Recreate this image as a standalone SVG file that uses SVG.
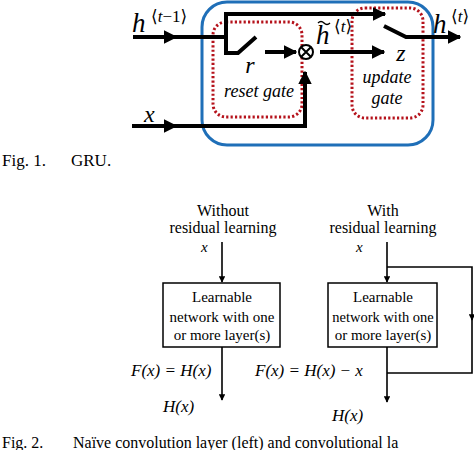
<svg xmlns="http://www.w3.org/2000/svg" width="474" height="450" viewBox="0 0 474 450">
<style>
.ln{fill:none;stroke:#000;stroke-width:4}
.ln2{fill:none;stroke:#000;stroke-width:1.6}
.m{font-family:"Liberation Serif","DejaVu Serif",serif;font-style:italic}
.sup{font-family:"Liberation Serif","DejaVu Serif",serif;font-size:17px}
.t{font-family:"Liberation Serif","Times New Roman",serif}
.gate{fill:none;stroke:#b5121b;stroke-width:3;stroke-dasharray:2.2 2.2}
.box{fill:#fff;stroke:#000;stroke-width:1.5}
</style>
<defs>
<marker id="ah" viewBox="0 0 10 10" refX="9" refY="5" markerWidth="3.4" markerHeight="3.4" orient="auto" markerUnits="strokeWidth"><path d="M0,0L10,5L0,10z"/></marker>
<marker id="ah2" viewBox="0 0 10 10" refX="9" refY="5" markerWidth="4" markerHeight="4" orient="auto" markerUnits="strokeWidth"><path d="M0,0L10,5L0,10z"/></marker>
</defs>

<g id="gru-frame"><rect x="202" y="2" width="231" height="143" rx="25" fill="none" stroke="#1f6fb8" stroke-width="3"/></g>
<g id="reset-gate"><rect x="213" y="22" width="89" height="95" rx="13" class="gate"/>
<text x="259" y="97" class="m" font-size="18" text-anchor="middle">reset gate</text>
<text x="250" y="73" class="m" font-size="24" text-anchor="middle">r</text></g>
<g id="update-gate"><rect x="352" y="8" width="71" height="110" rx="13" class="gate"/>
<text x="387" y="83" class="m" font-size="18" text-anchor="middle">update</text>
<text x="387" y="104" class="m" font-size="18" text-anchor="middle">gate</text>
<text x="401" y="61" class="m" font-size="24" text-anchor="middle">z</text></g>
<g id="mult"><circle cx="306" cy="52" r="7" fill="#fff" stroke="#000" stroke-width="2"/>
<path d="M301,47L311,57M311,47L301,57" stroke="#000" stroke-width="2"/></g>

<g id="gru-connectors">
<path class="ln" d="M133,37H226"/><path class="ln" d="M133,37H176" marker-end="url(#ah)"/>
<path class="ln" d="M226,37V14H385" marker-end="url(#ah)"/>
<path class="ln" d="M226,37V53H238L256,37"/>
<path class="ln" d="M265,52H296" marker-end="url(#ah)"/>
<path class="ln" d="M320,52H384" marker-end="url(#ah)"/>
<path class="ln" d="M384,26L406,37H460" marker-end="url(#ah)"/>
<path class="ln" d="M132,126H305V72" marker-end="url(#ah)"/>
<path class="ln" d="M132,126H176" marker-end="url(#ah)"/>
</g>
<g id="gru-labels">
<text x="132" y="32" class="m" font-size="27">h</text>
<text x="151" y="22" class="sup">⟨<tspan font-style="italic">t</tspan>−1⟩</text>
<text x="316" y="44" class="m" font-size="27">h</text>
<path d="M318,23q3,-3 6,0t6,0" fill="none" stroke="#000" stroke-width="1.4"/>
<text x="334" y="32" class="sup">⟨<tspan font-style="italic">t</tspan>⟩</text>
<text x="433" y="33" class="m" font-size="27">h</text>
<text x="451" y="22" class="sup">⟨<tspan font-style="italic">t</tspan>⟩</text>
<text x="144" y="122" class="m" font-size="24">x</text>
</g>

<text x="2" y="166" class="t" font-size="17">Fig. 1.</text>
<text x="71" y="166" class="t" font-size="17">GRU.</text>

<g id="left-box"><rect x="163" y="283" width="117" height="64" class="box"/>
<text x="222" y="302" class="t" font-size="15" text-anchor="middle">Learnable</text>
<text x="222" y="322" class="t" font-size="15" text-anchor="middle">network  with one</text>
<text x="222" y="340" class="t" font-size="15" text-anchor="middle">or more layer(s)</text></g>
<g id="right-box"><rect x="328" y="283" width="109" height="64" class="box"/>
<text x="383" y="302" class="t" font-size="15" text-anchor="middle">Learnable</text>
<text x="383" y="322" class="t" font-size="14.5" text-anchor="middle">network  with one</text>
<text x="383" y="340" class="t" font-size="15" text-anchor="middle">or more layer(s)</text></g>

<g id="res-connectors">
<path class="ln2" d="M222,242V282" marker-end="url(#ah2)"/>
<path class="ln2" d="M222,347V400" marker-end="url(#ah2)"/>
<path class="ln2" d="M387,242V282" marker-end="url(#ah2)"/>
<path class="ln2" d="M387,267H472V320" marker-end="url(#ah2)"/>
<path class="ln2" d="M472,318V373H387"/>
<path class="ln2" d="M387,347V402" marker-end="url(#ah2)"/>
</g>
<g id="res-labels">
<text x="223" y="216" class="t" font-size="16" text-anchor="middle">Without</text>
<text x="223" y="233" class="t" font-size="16" text-anchor="middle">residual learning</text>
<text x="383" y="216" class="t" font-size="16" text-anchor="middle">With</text>
<text x="383" y="233" class="t" font-size="16" text-anchor="middle">residual learning</text>
<text x="201" y="252" class="m" font-size="15">x</text>
<text x="356" y="252" class="m" font-size="15">x</text>
<text x="131" y="376" class="m" font-size="17">F(x) = H(x)</text>
<text x="255" y="376" class="m" font-size="17">F(x) = H(x) − x</text>
<text x="163" y="412" class="m" font-size="17">H(x)</text>
<text x="332" y="421" class="m" font-size="17">H(x)</text>
</g>
<text x="2" y="448" class="t" font-size="16">Fig. 2.<tspan x="73">Naïve convolution layer (left) and convolutional la</tspan></text>
</svg>
